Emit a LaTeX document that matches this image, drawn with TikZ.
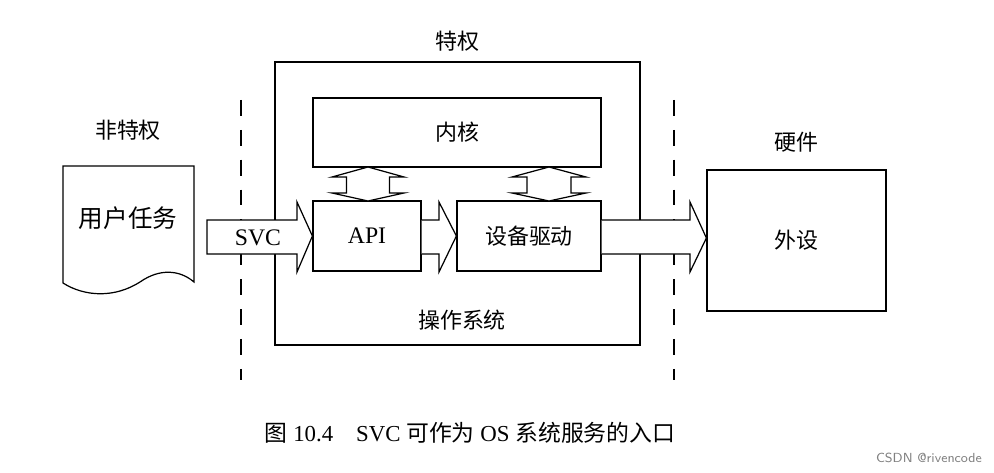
\documentclass[tikz,border=0pt]{standalone}
\usepackage{fontspec}
\setmainfont{Liberation Serif}
\newfontfamily\cjk{Noto Sans CJK SC}
\usetikzlibrary{positioning,calc}
\tikzset{
  box/.style={draw, line width=0.7pt, inner sep=0pt},
  lbl/.style={font=\cjk\fontsize{12.5}{14}\selectfont},
  blockarrow/.style={draw, line width=0.7pt, fill=white, line join=miter}
}
\begin{document}
\begin{tikzpicture}[x=0.02cm, y=-0.02cm]
  \useasboundingbox (0,0) rectangle (994,473);
  % frames
  \node[box, minimum width=365*0.02cm, minimum height=283*0.02cm] (os) at (457.5,203.5) {};
  \node[lbl, above=2pt of os] (priv) {特权};
  \node[box, lbl, minimum width=288*0.02cm, minimum height=69*0.02cm] (kernel) at (457,132.5) {内核};
  \node[box, minimum width=108*0.02cm, minimum height=70*0.02cm] (api) at (367,236) {};
  \node[box, lbl, minimum width=144*0.02cm, minimum height=70*0.02cm] (drv) at (529,236) {设备驱动};
  \node[box, lbl, minimum width=179*0.02cm, minimum height=141*0.02cm] (dev) at (796.5,240.5) {外设};
  \node[lbl, above=6pt of dev] (hw) {硬件};
  \node[lbl] (ossys) at (462,320) {操作系统};
  \node[lbl] (unpriv) at (128,130) {非特权};
  % user task document
  \draw[line width=0.7pt] (63,166) -- (194,166) -- (194,282)
    .. controls (180,270) and (160,268) .. (140,282)
    .. controls (115,298) and (85,297) .. (63,283) -- cycle;
  \node[font=\cjk\fontsize{14}{16}\selectfont] (task) at (128,218) {用户任务};
  % privilege borders
  \coordinate (b1t) at (241,100); \coordinate (b1b) at (241,380);
  \coordinate (b2t) at (674,100); \coordinate (b2b) at (674,380);
  \draw[dashed, dash pattern=on 9pt off 8pt, line width=0.6pt] (b1t) -- (b1b);
  \draw[dashed, dash pattern=on 9pt off 8pt, line width=0.6pt] (b2t) -- (b2b);
  % block arrows
  \draw[blockarrow] (207,220) -- (297,220) -- (297,202) -- (api.west) -- (297,272) -- (297,254) -- (207,254) -- cycle;
  \node[font=\fontsize{13.5}{15}\selectfont] (svc) at (258,238) {SVC};
  \node[font=\fontsize{13.5}{15}\selectfont] at (api) {API};
  \draw[blockarrow] (api.east |- 0,220) -- (439,220) -- (439,202) -- (drv.west) -- (439,272) -- (439,254) -- (api.east |- 0,254);
  \draw[blockarrow] (drv.east |- 0,220) -- (690,220) -- (690,202) -- (dev.west |- 0,238) -- (690,272) -- (690,254) -- (drv.east |- 0,254);
  \foreach \cx/\hw/\sw in {368/36/21.5, 549/37/22}{
    \draw[blockarrow] (\cx,167) -- (\cx+\hw,177) -- (\cx+\sw,177) -- (\cx+\sw,193) -- (\cx+\hw,193)
      -- (\cx,201) -- (\cx-\hw,193) -- (\cx-\sw,193) -- (\cx-\sw,177) -- (\cx-\hw,177) -- cycle;
  }
  % caption
  \node[font=\fontsize{13}{15}\selectfont] (cap) at (470,433) {{\cjk 图} 10.4\quad SVC {\cjk 可作为} OS {\cjk 系统服务的入口}};
  \node[font=\sffamily\fontsize{7.5}{9}\selectfont, text=gray, anchor=east] (mark) at (988,458) {CSDN @rivencode};
\end{tikzpicture}
\end{document}
